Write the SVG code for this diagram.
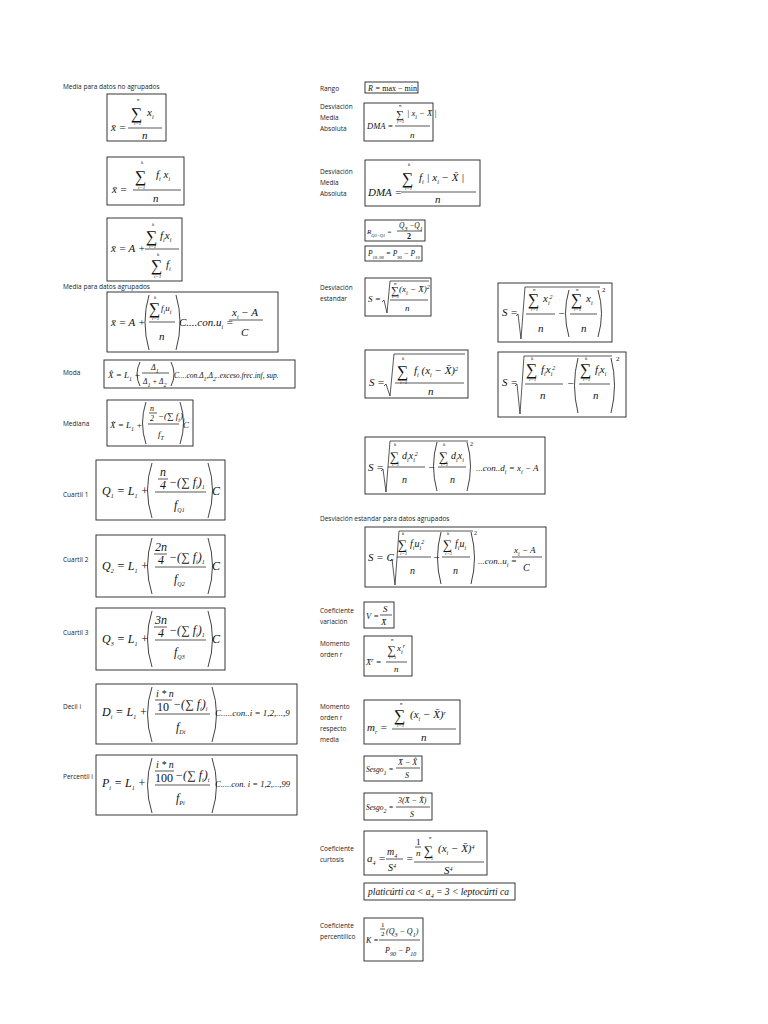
<svg xmlns="http://www.w3.org/2000/svg" width="768" height="1024" viewBox="0 0 768 1024">
<style>
.lb{font-family:"Open Sans","Liberation Sans",sans-serif;font-size:6.5px;fill:#222}
.m{font-family:"Liberation Serif",serif;font-style:italic;font-size:11px;fill:#111}
.q{font-family:"Liberation Serif",serif;font-style:italic;font-size:12px;fill:#111}
.s{font-family:"Liberation Serif",serif;font-style:italic;font-size:5px;fill:#111}
.sg{font-family:"Liberation Serif",serif;font-size:16px;fill:#111}
.sb{font-size:6px;baseline-shift:sub}
.sp{font-size:6px;baseline-shift:super}
.up{font-style:normal}
rect.b{fill:#fff;stroke:#222;stroke-width:0.9}
.fl{stroke:#111;stroke-width:0.7;fill:none}
.pr{stroke:#111;stroke-width:0.8;fill:none}
</style>
<rect width="768" height="1024" fill="#fff"/>

<g id="media-no-agrupados">
<text class="lb" x="63" y="89">Media para datos no agrupados</text>
<rect class="b" x="107" y="94" width="59" height="47"/>
<text class="sg" x="131" y="119">∑</text><text class="s" x="137" y="101">n</text><text class="s" x="134" y="125">i=1</text>
<text class="m" x="147" y="116">x<tspan class="sb">i</tspan></text>
<text class="m" x="111" y="131">x̄ =</text>
<line class="fl" x1="128" y1="128" x2="162" y2="128"/><text class="m" x="142" y="139">n</text>
</g>
<g id="media-2">
<rect class="b" x="107" y="157" width="77" height="48"/>
<text class="sg" x="135" y="182">∑</text><text class="s" x="141" y="164">k</text><text class="s" x="138" y="189">i=1</text>
<text class="m" x="156" y="178">f<tspan class="sb">i</tspan> x<tspan class="sb">i</tspan></text>
<text class="m" x="112" y="193">x̄  =</text>
<line class="fl" x1="133" y1="190" x2="181" y2="190"/><text class="m" x="153" y="202">n</text>
</g>
<g id="media-3">
<rect class="b" x="107" y="218" width="75" height="63"/>
<text class="m" x="111" y="252">x̄ = A +</text>
<text class="sg" x="146" y="242">∑</text><text class="s" x="152" y="226">k</text><text class="s" x="149" y="248">i=1</text>
<text class="m" x="160" y="239">f<tspan class="sb">i</tspan>x<tspan class="sb">i</tspan></text>
<line class="fl" x1="145" y1="249" x2="179" y2="249"/>
<text class="sg" x="151" y="271">∑</text><text class="s" x="157" y="256">k</text><text class="s" x="154" y="278">i=1</text>
<text class="m" x="166" y="268">f<tspan class="sb">i</tspan></text>
</g>

<g id="media-agrupados">
<text class="lb" x="63" y="289">Media para datos agrupados</text>
<rect class="b" x="107" y="292" width="171" height="60"/>
<text class="m" x="111" y="326">x̄ = A +</text>
<path class="pr" d="M149 295 Q141 322 149 350"/><path class="pr" d="M176 295 Q184 322 176 350"/>
<text class="sg" x="149" y="314">∑</text><text class="s" x="154" y="299">k</text><text class="s" x="152" y="320">i=1</text>
<text class="m" x="161" y="311" style="font-size:9px">f<tspan class="sb">i</tspan>u<tspan class="sb">i</tspan></text>
<line class="fl" x1="149" y1="322" x2="175" y2="322"/><text class="m" x="159" y="340">n</text>
<text class="m" x="179" y="326">C....con.u<tspan class="sb">i</tspan> =</text>
<text class="m" x="232" y="316">x<tspan class="sb">i</tspan> − A</text>
<line class="fl" x1="229" y1="320" x2="263" y2="320"/><text class="m" x="241" y="336">C</text>
</g>

<g id="moda">
<text class="lb" x="63" y="375">Moda</text>
<rect class="b" x="104" y="360" width="191" height="28"/>
<text class="m" x="108" y="378" style="font-size:9px">X̂ = L<tspan class="sb">1</tspan> +</text>
<path class="pr" d="M140 362 Q134 374 140 386"/><path class="pr" d="M171 362 Q177 374 171 386"/>
<text class="m" x="151" y="370" style="font-size:8px">Δ<tspan class="sb">1</tspan></text>
<line class="fl" x1="142" y1="373" x2="169" y2="373"/>
<text class="m" x="143" y="384" style="font-size:7.5px">Δ<tspan class="sb">1</tspan> + Δ<tspan class="sb">2</tspan></text>
<text class="m" x="174" y="378" style="font-size:7.5px">C....con.Δ<tspan class="sb">1</tspan>,Δ<tspan class="sb">2</tspan>..exceso.frec.inf, sup.</text>
</g>

<g id="mediana">
<text class="lb" x="63" y="426">Mediana</text>
<rect class="b" x="107" y="400" width="86" height="46"/>
<text class="m" x="110" y="428" style="font-size:9px">X̃ = L<tspan class="sb">1</tspan> +</text>
<path class="pr" d="M146 402 Q139 423 146 444"/><path class="pr" d="M180 402 Q187 423 180 444"/>
<text class="m" x="150" y="411" style="font-size:8px">n</text><line class="fl" x1="149" y1="413" x2="157" y2="413"/><text class="m" x="150" y="421" style="font-size:8px">2</text>
<text class="m" x="158" y="419" style="font-size:9px">−(∑ f<tspan class="sb">i</tspan>)<tspan class="sb">i</tspan></text>
<line class="fl" x1="148" y1="424" x2="179" y2="424"/><text class="m" x="158" y="437" style="font-size:9px">f<tspan class="sb">T</tspan></text>
<text class="m" x="183" y="428" style="font-size:9px">C</text>
</g>

<g id="cuartil1">
<text class="lb" x="63" y="497">Cuartil 1</text>
<rect class="b" x="96" y="460" width="129" height="60"/>
<text class="q" x="102" y="495">Q<tspan class="sb">1</tspan> = L<tspan class="sb">1</tspan> +</text>
<path class="pr" d="M152 463 Q143 490 152 518"/><path class="pr" d="M208 463 Q217 490 208 518"/>
<text class="q" x="160" y="476">n</text><line class="fl" x1="158" y1="479" x2="168" y2="479"/><text class="q" x="160" y="489">4</text>
<text class="q" x="169" y="486">−(∑ f<tspan class="sb">i</tspan>)<tspan class="sb">1</tspan></text>
<line class="fl" x1="155" y1="492" x2="206" y2="492"/><text class="q" x="174" y="509">f<tspan class="sb">Q1</tspan></text>
<text class="q" x="212" y="495">C</text>
</g>
<g id="cuartil2">
<text class="lb" x="63" y="562">Cuartil 2</text>
<rect class="b" x="96" y="535" width="129" height="62"/>
<text class="q" x="102" y="570">Q<tspan class="sb">2</tspan> = L<tspan class="sb">1</tspan> +</text>
<path class="pr" d="M152 538 Q143 566 152 594"/><path class="pr" d="M208 538 Q217 566 208 594"/>
<text class="q" x="155" y="551">2n</text><line class="fl" x1="154" y1="554" x2="167" y2="554"/><text class="q" x="158" y="564">4</text>
<text class="q" x="169" y="561">−(∑ f<tspan class="sb">i</tspan>)<tspan class="sb">1</tspan></text>
<line class="fl" x1="155" y1="567" x2="206" y2="567"/><text class="q" x="174" y="583">f<tspan class="sb">Q2</tspan></text>
<text class="q" x="212" y="570">C</text>
</g>
<g id="cuartil3">
<text class="lb" x="63" y="635">Cuartil 3</text>
<rect class="b" x="96" y="608" width="129" height="62"/>
<text class="q" x="102" y="643">Q<tspan class="sb">3</tspan> = L<tspan class="sb">1</tspan> +</text>
<path class="pr" d="M152 611 Q143 639 152 667"/><path class="pr" d="M208 611 Q217 639 208 667"/>
<text class="q" x="155" y="624">3n</text><line class="fl" x1="154" y1="627" x2="167" y2="627"/><text class="q" x="158" y="637">4</text>
<text class="q" x="169" y="634">−(∑ f<tspan class="sb">i</tspan>)<tspan class="sb">1</tspan></text>
<line class="fl" x1="155" y1="640" x2="206" y2="640"/><text class="q" x="174" y="656">f<tspan class="sb">Q3</tspan></text>
<text class="q" x="212" y="643">C</text>
</g>
<g id="decil">
<text class="lb" x="63" y="709">Decil i</text>
<rect class="b" x="96" y="684" width="201" height="60"/>
<text class="q" x="102" y="716">D<tspan class="sb">i</tspan> = L<tspan class="sb">1</tspan> +</text>
<path class="pr" d="M152 687 Q143 714 152 742"/><path class="pr" d="M212 687 Q221 714 212 742"/>
<text class="q" x="156" y="697" style="font-size:10px">i * n</text><line class="fl" x1="155" y1="700" x2="172" y2="700"/><text class="q up" x="157" y="711">10</text>
<text class="q" x="173" y="708">−(∑ f<tspan class="sb">i</tspan>)<tspan class="sb">i</tspan></text>
<line class="fl" x1="155" y1="714" x2="210" y2="714"/><text class="q" x="176" y="731">f<tspan class="sb">Di</tspan></text>
<text class="q" x="215" y="716" style="font-size:9px">C.....con..i = 1,2,...,9</text>
</g>
<g id="percentil">
<text class="lb" x="63" y="779">Percentil i</text>
<rect class="b" x="96" y="755" width="201" height="60"/>
<text class="q" x="102" y="787">P<tspan class="sb">i</tspan> = L<tspan class="sb">1</tspan> +</text>
<path class="pr" d="M152 758 Q143 785 152 813"/><path class="pr" d="M212 758 Q221 785 212 813"/>
<text class="q" x="156" y="768" style="font-size:10px">i * n</text><line class="fl" x1="155" y1="771" x2="174" y2="771"/><text class="q up" x="155" y="782">100</text>
<text class="q" x="175" y="779">−(∑ f<tspan class="sb">i</tspan>)<tspan class="sb">i</tspan></text>
<line class="fl" x1="155" y1="785" x2="210" y2="785"/><text class="q" x="176" y="802">f<tspan class="sb">Pi</tspan></text>
<text class="q" x="215" y="787" style="font-size:8.5px">C.....con. i = 1,2,...,99</text>
</g>

<g id="rango">
<text class="lb" x="320" y="91">Rango</text>
<rect class="b" x="365" y="82" width="53" height="11"/>
<text class="m" x="368" y="91" style="font-size:8px">R = <tspan class="up">max − min</tspan></text>
</g>
<g id="dma1">
<text class="lb" x="320" y="109">Desviación</text><text class="lb" x="320" y="120">Media</text><text class="lb" x="320" y="131">Absoluta</text>
<rect class="b" x="364" y="103" width="69" height="38"/>
<text class="sg" x="396" y="118" style="font-size:11px">∑</text><text class="s" x="399" y="107">n</text><text class="s" x="397" y="123">i=1</text>
<text class="m" x="407" y="116" style="font-size:8.5px">| x<tspan class="sb">i</tspan> − X̄ |</text>
<text class="m" x="367" y="129" style="font-size:8.5px">DMA =</text>
<line class="fl" x1="395" y1="126" x2="430" y2="126"/><text class="m" x="410" y="138" style="font-size:9px">n</text>
</g>
<g id="dma2">
<text class="lb" x="320" y="174">Desviación</text><text class="lb" x="320" y="185">Media</text><text class="lb" x="320" y="196">Absoluta</text>
<rect class="b" x="365" y="160" width="115" height="46"/>
<text class="sg" x="402" y="184">∑</text><text class="s" x="408" y="166">k</text><text class="s" x="405" y="190">i=1</text>
<text class="m" x="419" y="181">f<tspan class="sb">i</tspan> | x<tspan class="sb">i</tspan> − X̄ |</text>
<text class="m" x="368" y="196">DMA =</text>
<line class="fl" x1="401" y1="192" x2="476" y2="192"/><text class="m" x="435" y="203">n</text>
</g>
<g id="rq">
<rect class="b" x="365" y="220" width="60" height="21"/>
<text class="m" x="367" y="234" style="font-size:7px">R<tspan class="sb" style="font-size:4.5px">Q3−Q1</tspan> =</text>
<text class="m" x="399" y="228" style="font-size:7.5px">Q<tspan class="sb">3</tspan> −Q<tspan class="sb">1</tspan></text>
<line class="fl" x1="397" y1="231" x2="422" y2="231"/><text class="m up" x="407" y="239" style="font-size:8px;font-weight:bold">2</text>
</g>
<g id="rp">
<rect class="b" x="365" y="246" width="57" height="15"/>
<text class="m" x="368" y="256" style="font-size:7.5px">P<tspan class="sb" style="font-size:4.5px">10..90</tspan> = P<tspan class="sb" style="font-size:4.5px">90</tspan> − P<tspan class="sb" style="font-size:4.5px">10</tspan></text>
</g>

<g id="s1">
<text class="lb" x="320" y="290">Desviación</text><text class="lb" x="320" y="301">estandar</text>
<rect class="b" x="365" y="278" width="66" height="38"/>
<text class="m" x="368" y="302" style="font-size:9px">S =</text>
<path class="fl" d="M382 302 L384 300 L387 313 L390 281 L429 281"/>
<text class="sg" x="391" y="294" style="font-size:11px">∑</text><text class="s" x="394" y="285">n</text><text class="s" x="392" y="298">i=1</text>
<text class="m" x="399" y="292" style="font-size:9px">(x<tspan class="sb">i</tspan> − X̄)<tspan class="sp">2</tspan></text>
<line class="fl" x1="390" y1="300" x2="428" y2="300"/><text class="m" x="405" y="311" style="font-size:9px">n</text>
</g>
<g id="s2">
<rect class="b" x="498" y="283" width="114" height="59"/>
<text class="m" x="502" y="316">S =</text>
<path class="fl" d="M516 316 L518 314 L521 339 L525 287 L600 287"/>
<text class="sg" x="528" y="305">∑</text><text class="s" x="533" y="291">n</text><text class="s" x="531" y="311">i=1</text>
<text class="m" x="543" y="302">x<tspan class="sb">i</tspan><tspan class="sp">2</tspan></text>
<line class="fl" x1="526" y1="314" x2="555" y2="314"/><text class="m" x="538" y="332">n</text>
<text class="m" x="558" y="317">−</text>
<path class="pr" d="M569 290 Q562 313 569 337"/><path class="pr" d="M598 290 Q605 313 598 337"/>
<text class="sg" x="571" y="305">∑</text><text class="s" x="576" y="291">n</text><text class="s" x="574" y="311">i=1</text>
<text class="m" x="586" y="302">x<tspan class="sb">i</tspan></text>
<line class="fl" x1="570" y1="314" x2="597" y2="314"/><text class="m" x="581" y="332">n</text>
<text class="m up" x="602" y="292" style="font-size:7px">2</text>
</g>
<g id="s3">
<rect class="b" x="365" y="350" width="103" height="48"/>
<text class="m" x="369" y="386">S =</text>
<path class="fl" d="M384 386 L386 384 L390 396 L394 354 L465 354"/>
<text class="sg" x="397" y="377">∑</text><text class="s" x="402" y="360">k</text><text class="s" x="400" y="384">i=1</text>
<text class="m" x="414" y="374">f<tspan class="sb">i</tspan> (x<tspan class="sb">i</tspan> − X̄)<tspan class="sp">2</tspan></text>
<line class="fl" x1="395" y1="383" x2="464" y2="383"/><text class="m" x="428" y="395">n</text>
</g>
<g id="s4">
<rect class="b" x="498" y="352" width="128" height="65"/>
<text class="m" x="502" y="386">S =</text>
<path class="fl" d="M515 386 L517 384 L520 414 L524 356 L612 356"/>
<text class="sg" x="526" y="375">∑</text><text class="s" x="531" y="360">k</text><text class="s" x="529" y="381">i=1</text>
<text class="m" x="541" y="373">f<tspan class="sb">i</tspan>x<tspan class="sb">i</tspan><tspan class="sp">2</tspan></text>
<line class="fl" x1="525" y1="384" x2="563" y2="384"/><text class="m" x="540" y="399">n</text>
<text class="m" x="567" y="387">−</text>
<path class="pr" d="M578 358 Q571 385 578 413"/><path class="pr" d="M611 358 Q618 385 611 413"/>
<text class="sg" x="580" y="375">∑</text><text class="s" x="585" y="360">k</text><text class="s" x="583" y="381">i=1</text>
<text class="m" x="595" y="373">f<tspan class="sb">i</tspan>x<tspan class="sb">i</tspan></text>
<line class="fl" x1="579" y1="384" x2="610" y2="384"/><text class="m" x="593" y="399">n</text>
<text class="m up" x="616" y="361" style="font-size:7px">2</text>
</g>
<g id="s5">
<rect class="b" x="365" y="437" width="180" height="57"/>
<text class="m" x="368" y="471">S =</text>
<path class="fl" d="M381 471 L383 469 L386 492 L390 441 L468 441"/>
<text class="sg" x="390" y="461" style="font-size:13px">∑</text><text class="s" x="394" y="446">k</text><text class="s" x="392" y="466">i=1</text>
<text class="m" x="402" y="459" style="font-size:10px">d<tspan class="sb">i</tspan>x<tspan class="sb">i</tspan><tspan class="sp">2</tspan></text>
<line class="fl" x1="388" y1="467" x2="425" y2="467"/><text class="m" x="402" y="483" style="font-size:10px">n</text>
<text class="m" x="428" y="471">−</text>
<path class="pr" d="M437 442 Q430 466 437 491"/><path class="pr" d="M467 442 Q474 466 467 491"/>
<text class="sg" x="439" y="461" style="font-size:13px">∑</text><text class="s" x="443" y="446">k</text><text class="s" x="441" y="466">i=1</text>
<text class="m" x="451" y="459" style="font-size:10px">d<tspan class="sb">i</tspan>x<tspan class="sb">i</tspan></text>
<line class="fl" x1="438" y1="467" x2="466" y2="467"/><text class="m" x="450" y="483" style="font-size:10px">n</text>
<text class="m up" x="470" y="446" style="font-size:6px">2</text>
<text class="m" x="476" y="471" style="font-size:9px">...con..d<tspan class="sb">i</tspan> = x<tspan class="sb">i</tspan> − A</text>
</g>
<g id="s6">
<text class="lb" x="320" y="521">Desviación estandar para datos agrupados</text>
<rect class="b" x="365" y="527" width="181" height="60"/>
<text class="m" x="368" y="561">S = C</text>
<path class="fl" d="M390 561 L392 559 L395 585 L399 531 L473 531"/>
<text class="sg" x="398" y="549" style="font-size:13px">∑</text><text class="s" x="402" y="535">k</text><text class="s" x="400" y="555">i=1</text>
<text class="m" x="410" y="547" style="font-size:10px">f<tspan class="sb">i</tspan>u<tspan class="sb">i</tspan><tspan class="sp">2</tspan></text>
<line class="fl" x1="397" y1="557" x2="431" y2="557"/><text class="m" x="410" y="574" style="font-size:10px">n</text>
<text class="m" x="433" y="561">−</text>
<path class="pr" d="M441 532 Q434 558 441 584"/><path class="pr" d="M471 532 Q478 558 471 584"/>
<text class="sg" x="443" y="549" style="font-size:13px">∑</text><text class="s" x="447" y="535">k</text><text class="s" x="445" y="555">i=1</text>
<text class="m" x="455" y="547" style="font-size:10px">f<tspan class="sb">i</tspan>u<tspan class="sb">i</tspan></text>
<line class="fl" x1="442" y1="557" x2="470" y2="557"/><text class="m" x="453" y="574" style="font-size:10px">n</text>
<text class="m up" x="474" y="535" style="font-size:6px">2</text>
<text class="m" x="478" y="564" style="font-size:9px">...con..u<tspan class="sb">i</tspan> =</text>
<text class="m" x="514" y="553" style="font-size:9px">x<tspan class="sb">i</tspan> − A</text>
<line class="fl" x1="512" y1="557" x2="542" y2="557"/><text class="m" x="523" y="571" style="font-size:10px">C</text>
</g>
<g id="cv">
<text class="lb" x="320" y="613">Coeficiente</text><text class="lb" x="320" y="624">variación</text>
<rect class="b" x="364" y="602" width="30" height="26"/>
<text class="m" x="366" y="619" style="font-size:8.5px">V =</text>
<text class="m" x="383" y="612" style="font-size:9px">S</text><line class="fl" x1="380" y1="615" x2="392" y2="615"/>
<text class="m" x="381" y="625" style="font-size:9px">X̄</text>
</g>
<g id="momento">
<text class="lb" x="320" y="646">Momento</text><text class="lb" x="320" y="657">orden r</text>
<rect class="b" x="364" y="636" width="48" height="40"/>
<text class="sg" x="387" y="654" style="font-size:12px">∑</text><text class="s" x="391" y="641">n</text><text class="s" x="389" y="659">i=1</text>
<text class="m" x="397" y="651" style="font-size:9px">x<tspan class="sb">i</tspan><tspan class="sp">r</tspan></text>
<text class="m" x="366" y="665" style="font-size:8.5px">X̄<tspan class="sp">r</tspan> =</text>
<line class="fl" x1="386" y1="662" x2="407" y2="662"/><text class="m" x="394" y="672" style="font-size:9px">n</text>
</g>
<g id="momento-media">
<text class="lb" x="320" y="709">Momento</text><text class="lb" x="320" y="720">orden r</text><text class="lb" x="320" y="731">respecto</text><text class="lb" x="320" y="742">media</text>
<rect class="b" x="364" y="700" width="96" height="44"/>
<text class="sg" x="394" y="721">∑</text><text class="s" x="400" y="705">n</text><text class="s" x="397" y="727">i=1</text>
<text class="m" x="410" y="718">(x<tspan class="sb">i</tspan> − X̄)<tspan class="sp">r</tspan></text>
<text class="m" x="367" y="731">m<tspan class="sb">r</tspan> =</text>
<line class="fl" x1="392" y1="729" x2="456" y2="729"/><text class="m" x="421" y="741">n</text>
</g>
<g id="sesgo1">
<rect class="b" x="364" y="756" width="58" height="25"/>
<text class="m" x="366" y="772" style="font-size:7.5px">Sesgo<tspan class="sb">1</tspan> =</text>
<text class="m" x="398" y="765" style="font-size:8px">X̄ − X̂</text>
<line class="fl" x1="396" y1="768" x2="420" y2="768"/><text class="m" x="405" y="778" style="font-size:8px">S</text>
</g>
<g id="sesgo2">
<rect class="b" x="364" y="793" width="68" height="27"/>
<text class="m" x="366" y="810" style="font-size:7.5px">Sesgo<tspan class="sb">2</tspan> =</text>
<text class="m" x="398" y="803" style="font-size:8px">3(X̄ − X̃)</text>
<line class="fl" x1="396" y1="807" x2="430" y2="807"/><text class="m" x="410" y="817" style="font-size:8px">S</text>
</g>
<g id="curtosis">
<text class="lb" x="320" y="851">Coeficiente</text><text class="lb" x="320" y="862">curtosis</text>
<rect class="b" x="364" y="831" width="123" height="44"/>
<text class="m" x="367" y="862">a<tspan class="sb">4</tspan> =</text>
<text class="m" x="387" y="855" style="font-size:10px">m<tspan class="sb">4</tspan></text>
<line class="fl" x1="386" y1="859" x2="403" y2="859"/><text class="m" x="388" y="871" style="font-size:10px">S<tspan class="sp">4</tspan></text>
<text class="m" x="406" y="862">=</text>
<text class="m up" x="416" y="845" style="font-size:9px">1</text><line class="fl" x1="415" y1="847" x2="421" y2="847"/><text class="m" x="416" y="856" style="font-size:9px">n</text>
<text class="sg" x="424" y="855" style="font-size:13px">∑</text><text class="s" x="429" y="839">n</text><text class="s" x="426" y="860">i=1</text>
<text class="m" x="438" y="852">(x<tspan class="sb">i</tspan> − X̄)<tspan class="sp">4</tspan></text>
<line class="fl" x1="414" y1="862" x2="484" y2="862"/><text class="m" x="444" y="874">S<tspan class="sp">4</tspan></text>
</g>
<g id="platicurtica">
<rect class="b" x="364" y="883" width="151" height="17"/>
<text class="m" x="368" y="895" style="font-size:9.5px">platicúrti ca &lt; a<tspan class="sb">4</tspan> = 3 &lt; leptocúrti ca</text>
</g>
<g id="percentilico">
<text class="lb" x="320" y="928">Coeficiente</text><text class="lb" x="320" y="939">percentílico</text>
<rect class="b" x="364" y="918" width="59" height="43"/>
<text class="m" x="366" y="943" style="font-size:8px">K =</text>
<text class="m up" x="381" y="927" style="font-size:7px">1</text><line class="fl" x1="380" y1="929" x2="385" y2="929"/><text class="m up" x="381" y="936" style="font-size:7px">2</text>
<text class="m" x="386" y="934" style="font-size:8px">(Q<tspan class="sb">3</tspan> − Q<tspan class="sb">1</tspan>)</text>
<line class="fl" x1="379" y1="940" x2="420" y2="940"/>
<text class="m" x="385" y="953" style="font-size:8px">P<tspan class="sb">90</tspan> − P<tspan class="sb">10</tspan></text>
</g>
</svg>
